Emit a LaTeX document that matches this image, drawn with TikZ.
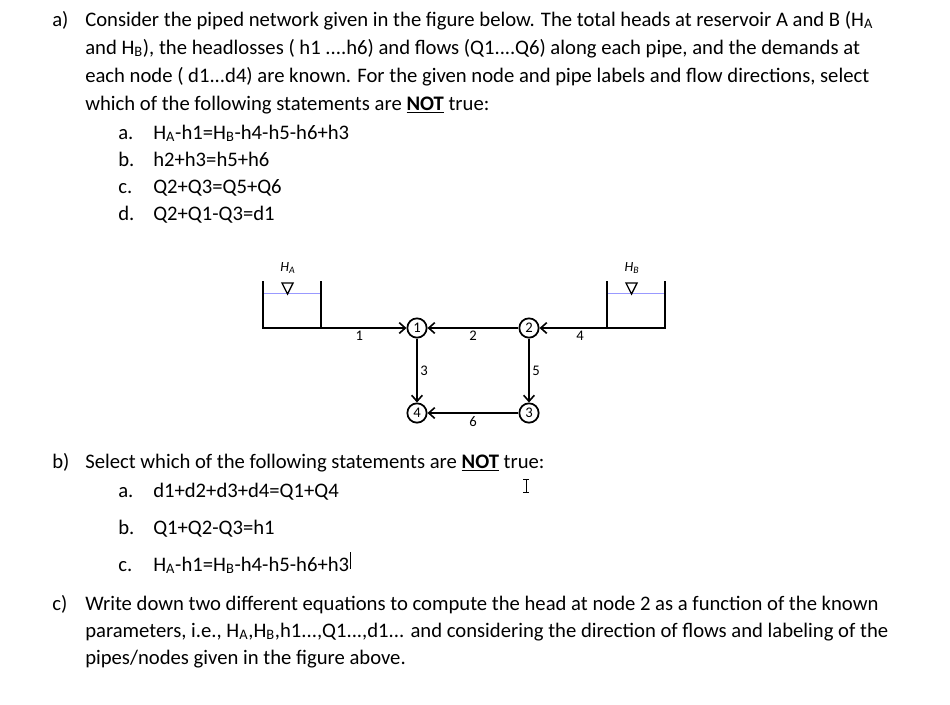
\documentclass[tikz,border=0pt]{standalone}
\usepackage{fontspec}
\setmainfont{Carlito}
\usetikzlibrary{arrows.meta}
\begin{document}
\begin{tikzpicture}[x=0.75pt,y=-0.75pt,
  txt/.style={anchor=base west,inner sep=0pt,font=\fontsize{15.5}{18}\selectfont},
  nd/.style={circle,draw,line width=1.3pt,inner sep=0pt,minimum size=14.5pt,font=\fontsize{11}{12}\selectfont},
  pipe/.style={line width=1.2pt,-{Straight Barb[length=4.5pt,width=8pt]}},
  lbl/.style={font=\fontsize{11}{12}\selectfont,inner sep=2pt},
  wall/.style={line width=1.2pt}]
\useasboundingbox (0,0) rectangle (950,704);
% text
\node[txt] (t1l) at (52,26) {a)};
\node[txt] (t1) at (85,26) {Consider the piped network given in the figure below. The total heads at reservoir A and B (H\textsubscript{A}};
\node[txt] (t2) at (85,54) {and H\textsubscript{B}), the headlosses ( h1 ....h6) and flows (Q1....Q6) along each pipe, and the demands at};
\node[txt] (t3) at (85,82) {each node ( d1...d4) are known. For the given node and pipe labels and flow directions, select};
\node[txt] (t4) at (85,110) {which of the following statements are \textbf{\underline{NOT}} true:};
\node[txt] (a1l) at (118,139) {a.};
\node[txt] (a1) at (153,139) {H\textsubscript{A}-h1=H\textsubscript{B}-h4-h5-h6+h3};
\node[txt] (a2l) at (118,166) {b.};
\node[txt] (a2) at (153,166) {h2+h3=h5+h6};
\node[txt] (a3l) at (118,193) {c.};
\node[txt] (a3) at (153,193) {Q2+Q3=Q5+Q6};
\node[txt] (a4l) at (118,220) {d.};
\node[txt] (a4) at (153,220) {Q2+Q1-Q3=d1};
\node[txt] (b0l) at (52,468) {b)};
\node[txt] (b0) at (85,468) {Select which of the following statements are \textbf{\underline{NOT}} true:};
\node[txt] (b1l) at (118,497) {a.};
\node[txt] (b1) at (153,497) {d1+d2+d3+d4=Q1+Q4};
\node[txt] (b2l) at (118,534) {b.};
\node[txt] (b2) at (153,534) {Q1+Q2-Q3=h1};
\node[txt] (b3l) at (118,571) {c.};
\node[txt] (b3) at (153,571) {H\textsubscript{A}-h1=H\textsubscript{B}-h4-h5-h6+h3};
\draw[line width=0.6pt] (b3.east)++(1,-13) -- ++(0,17);
\node[txt] (c0l) at (52,610) {c)};
\node[txt] (c0) at (85,610) {Write down two different equations to compute the head at node 2 as a function of the known};
\node[txt] (c1) at (85,637) {parameters, i.e., H\textsubscript{A},H\textsubscript{B},h1...,Q1...,d1... and considering the direction of flows and labeling of the};
\node[txt] (c2) at (85,664) {pipes/nodes given in the figure above.};
% I-beam cursor
\draw[line width=0.5pt] (526,479)--(526,492) (523,479)--(529,479) (523,492)--(529,492);
% tanks
\draw[wall] (263,281)--(263,328)--(321,328)--(321,281);
\draw[wall] (607,281)--(607,328)--(665,328)--(665,281);
\draw[blue!40,line width=0.6pt] (264,293)--(320,293) (608,293)--(664,293);
\draw[line width=1pt] (282,283)--(293,283)--(287.5,294)--cycle;
\draw[line width=1pt] (626,283)--(637,283)--(631.5,294)--cycle;
\node[lbl,font=\fontsize{10.5}{11}\selectfont\itshape] (ha) at (288,268) {H\textsubscript{A}};
\node[lbl,font=\fontsize{10.5}{11}\selectfont\itshape] (hb) at (632,268) {H\textsubscript{B}};
\coordinate (ta) at (321,328);
\coordinate (tb) at (607,328);
% nodes
\node[nd] (n1) at (417,328) {1};
\node[nd] (n2) at (529,328) {2};
\node[nd] (n3) at (529,413) {3};
\node[nd] (n4) at (417,413) {4};
\draw[pipe] (ta) -- node[lbl,below,pos=0.45] {1} (n1);
\draw[pipe] (n2) -- node[lbl,below] {2} (n1);
\draw[pipe] (tb) -- node[lbl,below,pos=0.4] {4} (n2);
\draw[pipe] (n1) -- node[lbl,right] {3} (n4);
\draw[pipe] (n2) -- node[lbl,right] {5} (n3);
\draw[pipe] (n3) -- node[lbl,below] {6} (n4);
\end{tikzpicture}
\end{document}
